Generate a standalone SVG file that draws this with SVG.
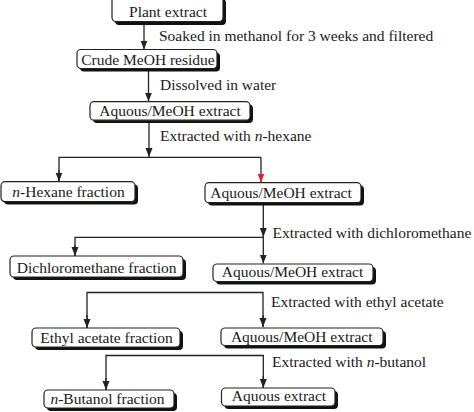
<svg xmlns="http://www.w3.org/2000/svg" width="474" height="412" viewBox="0 0 474 412">
<style>
text{font-family:"Liberation Serif","Times New Roman",serif;font-size:15.5px;fill:#1a1a1a}
.n text{text-anchor:middle}
.box{fill:#fff;stroke:#222;stroke-width:1.2}
.sh{fill:#111}
.c line,.c polyline{fill:none;stroke:#222;stroke-width:1.3}
</style>
<defs>
<marker id="ah" markerUnits="userSpaceOnUse" markerWidth="9" markerHeight="8" refX="9" refY="4" orient="auto"><path d="M0,0.5 L9,4 L0,7.5 z" fill="#222"/></marker>
<marker id="ahr" markerUnits="userSpaceOnUse" markerWidth="9" markerHeight="8" refX="9" refY="4" orient="auto"><path d="M0,0.5 L9,4 L0,7.5 z" fill="#e3242b"/></marker>
</defs>
<g class="c" id="connectors">
<line x1="144" y1="23" x2="144" y2="49.5" marker-end="url(#ah)"/>
<line x1="148.5" y1="70" x2="148.5" y2="101.5" marker-end="url(#ah)"/>
<line x1="149" y1="121" x2="149" y2="157" marker-end="url(#ah)"/>
<polyline points="59,181.5 59,157.3 261,157.3"/>
<line x1="59" y1="170" x2="59" y2="181.5" marker-end="url(#ah)"/>
<line x1="261" y1="157.3" x2="261" y2="182.5" marker-end="url(#ahr)"/>
<line x1="263.3" y1="204" x2="263.3" y2="237" marker-end="url(#ah)"/>
<line x1="263.3" y1="237" x2="263.3" y2="263.5" marker-end="url(#ah)"/>
<polyline points="75,256 75,237.3 263.3,237.3"/>
<line x1="75" y1="245" x2="75" y2="256" marker-end="url(#ah)"/>
<polyline points="87,328 87,292.5 263,292.5 263,327"/>
<line x1="87" y1="315" x2="87" y2="328" marker-end="url(#ah)"/>
<line x1="263" y1="315" x2="263" y2="327" marker-end="url(#ah)"/>
<polyline points="106,390 106,355.5 263.3,355.5 263.3,388"/>
<line x1="106" y1="378" x2="106" y2="390" marker-end="url(#ah)"/>
<line x1="263.3" y1="376" x2="263.3" y2="388" marker-end="url(#ah)"/>
</g>
<g id="labels">
<text x="159" y="41">Soaked in methanol for 3 weeks and filtered</text>
<text x="160" y="89.5">Dissolved in water</text>
<text x="160" y="140.5">Extracted with <tspan font-style="italic">n</tspan>-hexane</text>
<text x="272.5" y="238">Extracted with dichloromethane</text>
<text x="271" y="306.7">Extracted with ethyl acetate</text>
<text x="272" y="367.3">Extracted with <tspan font-style="italic">n</tspan>-butanol</text>
</g>
<g class="n" id="plant-extract">
<rect class="sh" x="115" y="-1" width="111" height="26" rx="4"/>
<rect class="box" x="112" y="-4" width="111" height="25.5" rx="4"/>
<text x="168" y="16.8">Plant extract</text>
</g>
<g class="n" id="crude-meoh-residue">
<rect class="sh" x="80" y="52.5" width="140" height="19" rx="4"/>
<rect class="box" x="77" y="49.5" width="140" height="19" rx="4"/>
<text x="148" y="64.5">Crude MeOH residue</text>
</g>
<g class="n" id="aqueous-meoh-1">
<rect class="sh" x="93" y="104.5" width="160" height="18.5" rx="4"/>
<rect class="box" x="90" y="101.7" width="160" height="18.5" rx="4"/>
<text x="170" y="115.5">Aquous/MeOH extract</text>
</g>
<g class="n" id="n-hexane-fraction">
<rect class="sh" x="4" y="184.5" width="134" height="20" rx="4"/>
<rect class="box" x="1" y="181.7" width="134" height="20" rx="4"/>
<text x="68.5" y="196.5"><tspan font-style="italic">n</tspan>-Hexane fraction</text>
</g>
<g class="n" id="aqueous-meoh-2">
<rect class="sh" x="208" y="185.5" width="156" height="20" rx="4"/>
<rect class="box" x="205" y="182.7" width="156" height="20" rx="4"/>
<text x="281" y="198.3">Aquous/MeOH extract</text>
</g>
<g class="n" id="dichloromethane-fraction">
<rect class="sh" x="13" y="259" width="173" height="21" rx="4"/>
<rect class="box" x="10" y="256" width="173" height="21" rx="4"/>
<text x="96.7" y="272.5">Dichloromethane fraction</text>
</g>
<g class="n" id="aqueous-meoh-3">
<rect class="sh" x="216" y="267" width="160" height="17.5" rx="4"/>
<rect class="box" x="213" y="264" width="160" height="17.5" rx="4"/>
<text x="292.5" y="277">Aquous/MeOH extract</text>
</g>
<g class="n" id="ethyl-acetate-fraction">
<rect class="sh" x="35" y="331" width="148" height="19" rx="4"/>
<rect class="box" x="32" y="328" width="148" height="19" rx="4"/>
<text x="106.5" y="342.5">Ethyl acetate fraction</text>
</g>
<g class="n" id="aqueous-meoh-4">
<rect class="sh" x="224" y="331" width="162" height="17.5" rx="4"/>
<rect class="box" x="221" y="328" width="162" height="17.5" rx="4"/>
<text x="301.7" y="341.5">Aquous/MeOH extract</text>
</g>
<g class="n" id="n-butanol-fraction">
<rect class="sh" x="47" y="393" width="130" height="18" rx="4"/>
<rect class="box" x="44" y="390" width="130" height="18" rx="4"/>
<text x="107.5" y="404"><tspan font-style="italic">n</tspan>-Butanol fraction</text>
</g>
<g class="n" id="aqueous-extract">
<rect class="sh" x="224.5" y="391" width="113.5" height="18" rx="4"/>
<rect class="box" x="221.5" y="388" width="113.5" height="18" rx="4"/>
<text x="279" y="401">Aquous extract</text>
</g>
</svg>
